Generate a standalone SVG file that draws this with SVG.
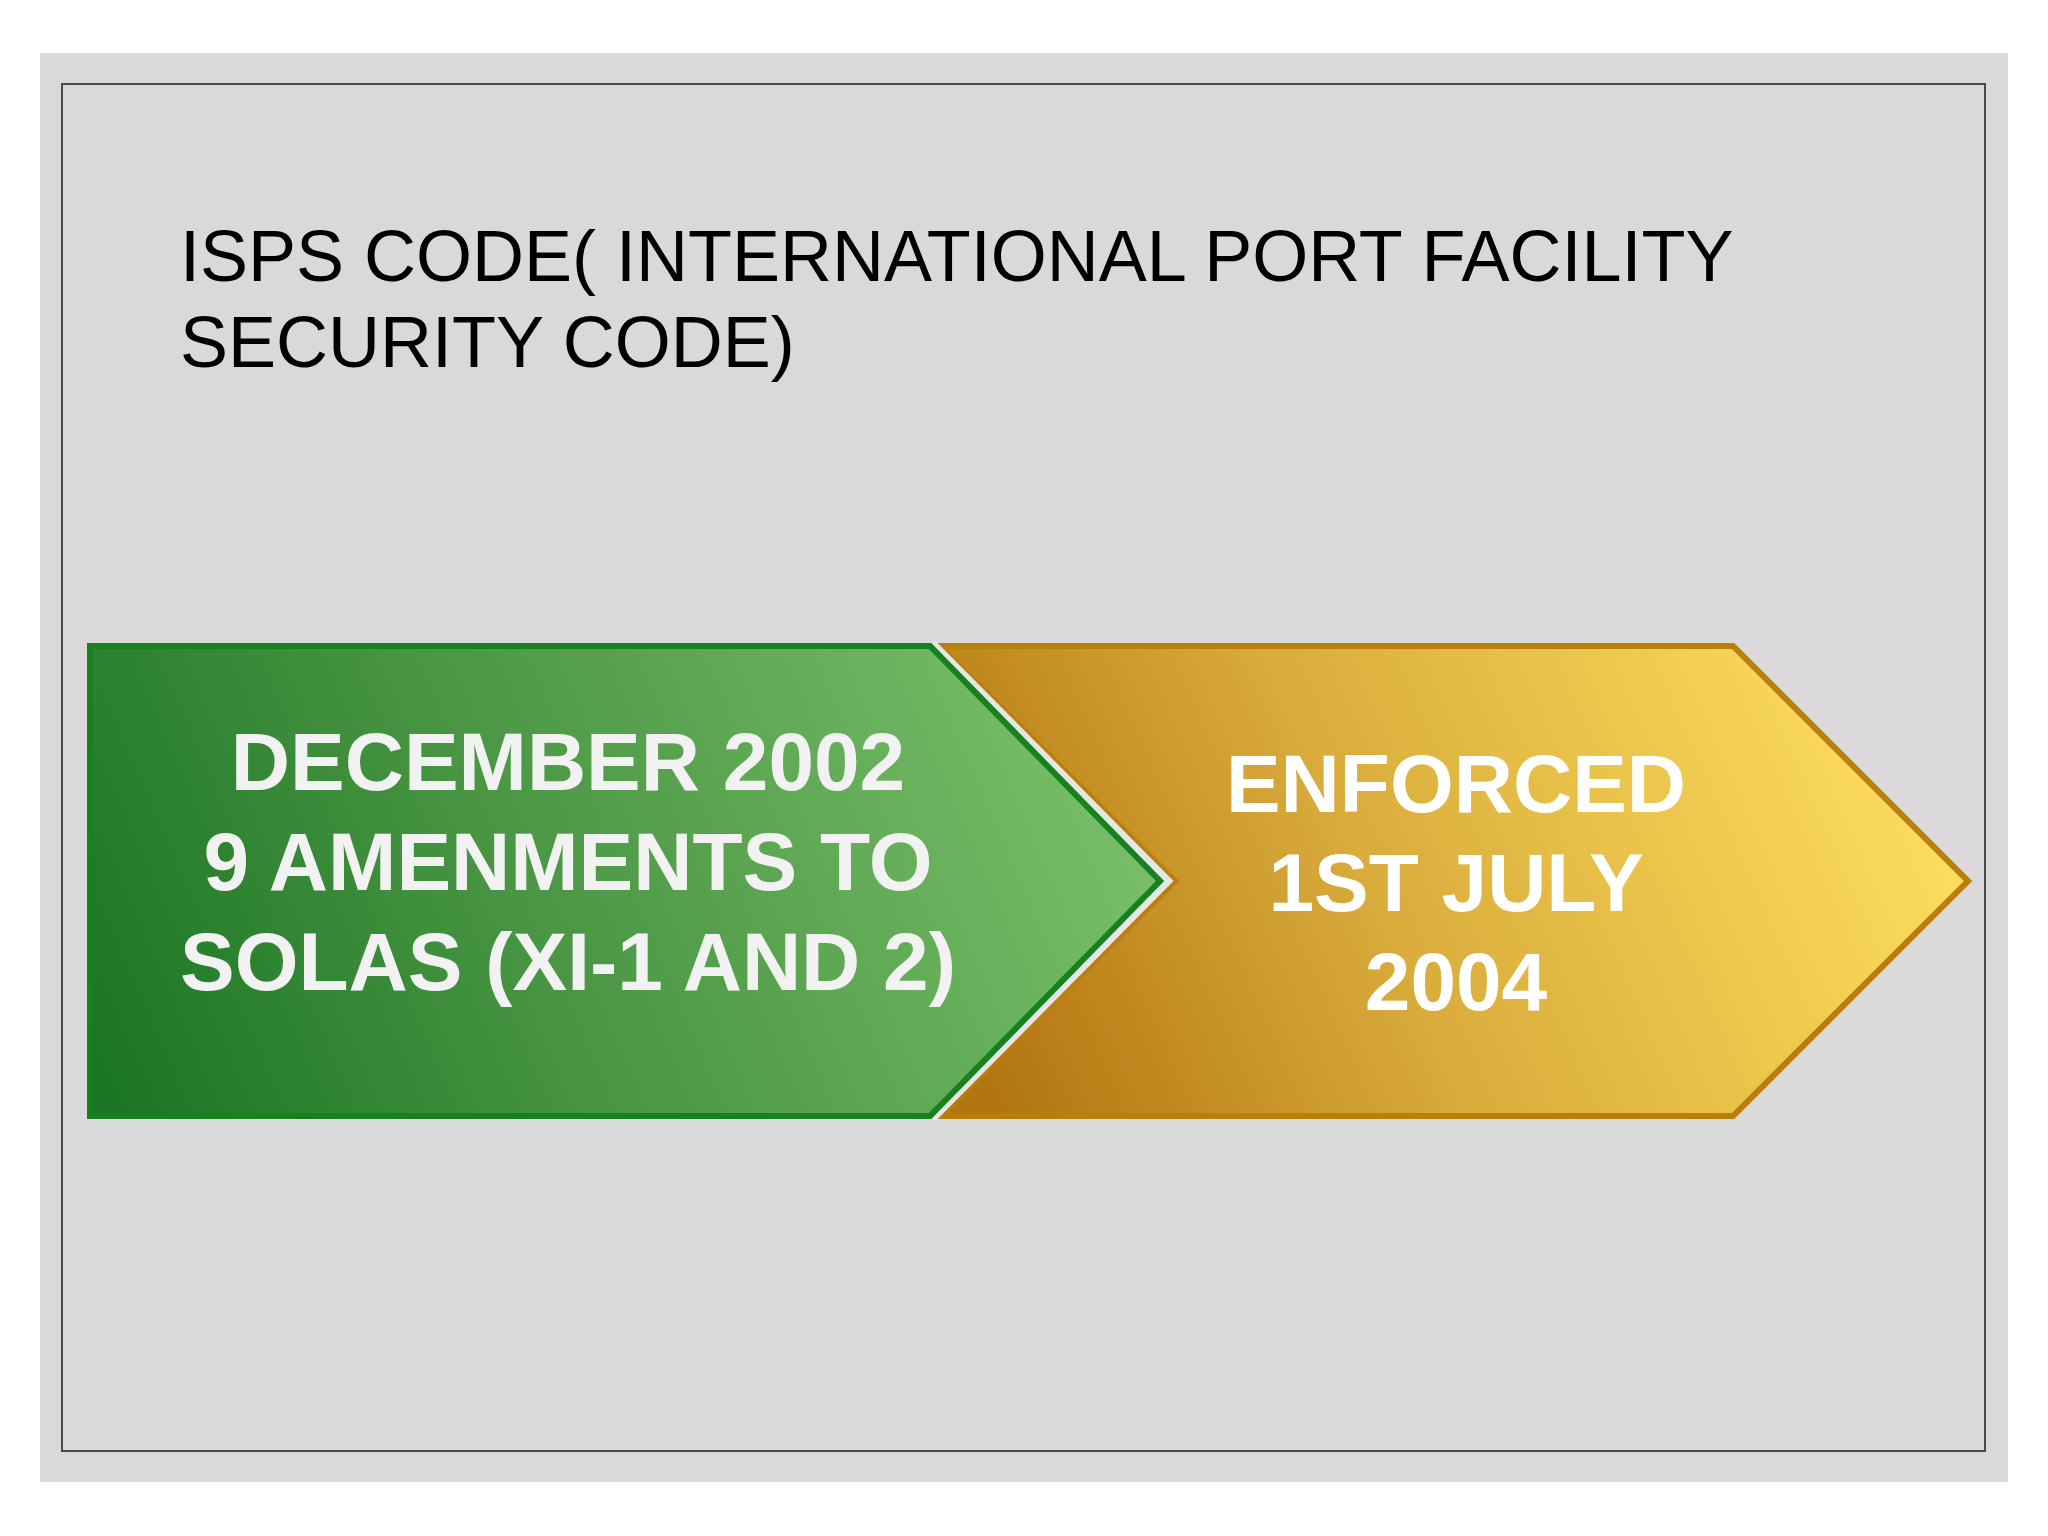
<svg xmlns="http://www.w3.org/2000/svg" width="2048" height="1536" viewBox="0 0 2048 1536">
  <defs>
    <linearGradient id="gGreen" gradientUnits="userSpaceOnUse" x1="120" y1="1110" x2="1060" y2="700">
      <stop offset="0" stop-color="#1b7623"/>
      <stop offset="0.45" stop-color="#4a9644"/>
      <stop offset="1" stop-color="#77bd67"/>
    </linearGradient>
    <linearGradient id="gGold" gradientUnits="userSpaceOnUse" x1="1000" y1="1110" x2="1880" y2="720">
      <stop offset="0" stop-color="#b27510"/>
      <stop offset="0.45" stop-color="#d9ac3c"/>
      <stop offset="1" stop-color="#fcdc5c"/>
    </linearGradient>
    <style>
      .title { font-family: "Liberation Sans", Arial, sans-serif; font-size: 72px; fill: #000000; }
      .lbl { font-family: "Liberation Sans", Arial, sans-serif; font-size: 82px; font-weight: bold; text-anchor: middle; }
    </style>
  </defs>

  <rect x="0" y="0" width="2048" height="1536" fill="#ffffff"/>
  <rect x="40" y="53" width="1968" height="1429" fill="#d9d9d9"/>
  <rect x="62" y="84" width="1923" height="1367" fill="none" stroke="#4a4a4a" stroke-width="2"/>

  <g id="title">
    <text class="title" x="180" y="281">ISPS CODE( INTERNATIONAL PORT FACILITY</text>
    <text class="title" x="180" y="367">SECURITY CODE)</text>
  </g>

  <g id="node-enforced">
    <polygon points="940,646 1733,646 1968,881 1733,1116 940,1116 1175,881" fill="url(#gGold)" stroke="#b8800a" stroke-width="6" stroke-linejoin="miter"/>
    <text class="lbl" x="1456" y="812" fill="#ffffff">ENFORCED</text>
    <text class="lbl" x="1456" y="911" fill="#ffffff">1ST JULY</text>
    <text class="lbl" x="1456" y="1010" fill="#ffffff">2004</text>
  </g>

  <g id="node-december">
    <polyline points="930,646 1163,881 930,1116" fill="none" stroke="#e6e6e6" stroke-width="15" stroke-linejoin="miter"/>
    <polygon points="90,646 930,646 1160,881 930,1116 90,1116" fill="url(#gGreen)" stroke="#17801f" stroke-width="6" stroke-linejoin="miter"/>
    <text class="lbl" x="568" y="790" fill="#f2f2f2">DECEMBER 2002</text>
    <text class="lbl" x="568" y="890" fill="#f2f2f2">9 AMENMENTS TO</text>
    <text class="lbl" x="568" y="990" fill="#f2f2f2">SOLAS (XI-1 AND 2)</text>
  </g>

  <g id="connectors"></g>
</svg>
